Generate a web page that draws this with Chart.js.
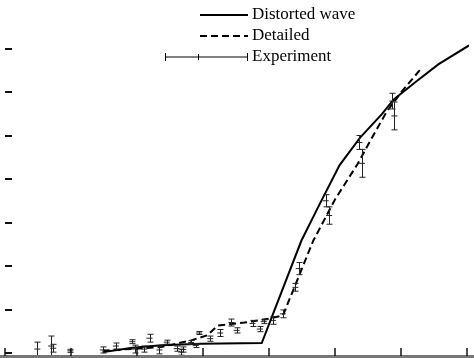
<!DOCTYPE html>
<html>
<head>
<meta charset="utf-8">
<script src="https://cdn.jsdelivr.net/npm/chart.js@4/dist/chart.umd.min.js"></script>
<style>
  html,body{margin:0;padding:0;background:#fff;}
  #wrap{width:474px;height:358px;position:relative;}
</style>
</head>
<body>
<div id="wrap"><canvas id="c" width="474" height="358"></canvas></div>
<script>
// curves (x, y in axis units)
const waveX = [1.48, 1.93, 2.37, 2.97, 3.89, 4.49, 4.75, 5.07, 5.38, 5.71, 5.89, 6.23, 6.57, 7.03];
const waveY = [0.02, 0.12, 0.18, 0.21, 0.23, 2.58, 3.37, 4.32, 4.95, 5.49, 5.83, 6.24, 6.64, 7.07];

const detX = [1.48, 2.37, 2.82, 3.07, 3.22, 3.63, 4.00, 4.21, 4.67, 5.00, 5.34, 5.56, 5.78, 6.01, 6.30];
const detY = [0.05, 0.14, 0.29, 0.41, 0.63, 0.70, 0.79, 0.86, 2.58, 3.53, 4.34, 4.95, 5.54, 6.01, 6.53];

const expX = [0.49, 0.70, 0.73, 0.99, 1.48, 1.68, 1.93, 1.97, 2.11, 2.19, 2.34, 2.45, 2.60, 2.67, 2.70, 2.82, 2.89, 2.94,
  3.11, 3.26, 3.43, 3.51, 3.75, 3.86, 3.92, 4.06, 4.21, 4.40, 4.45, 4.86, 4.91, 5.37, 5.41, 5.87, 5.90];
const expY = [0.09, 0.16, 0.11, 0.05, 0.07, 0.16, 0.26, 0.09, 0.09, 0.34, 0.07, 0.25, 0.10, 0.02, 0.08, 0.24, 0.17, 0.46,
  0.33, 0.46, 0.70, 0.52, 0.68, 0.55, 0.72, 0.75, 0.90, 1.51, 1.94, 3.50, 3.16, 4.84, 4.36, 5.79, 5.45];
const expErr = [0.16, 0.23, 0.09, 0.035, 0.07, 0.07, 0.045, 0.09, 0.07, 0.09, 0.09, 0.045, 0.06, 0.07, 0.06, 0.045, 0.045, 0.035,
  0.06, 0.08, 0.08, 0.06, 0.07, 0.06, 0.045, 0.09, 0.09, 0.09, 0.14, 0.14, 0.20, 0.16, 0.32, 0.18, 0.32];

const xTicks = [0, 1, 2, 3, 4, 5, 6, 7];
const yTicks = [0, 1, 2, 3, 4, 5, 6, 7];

const legendLabels = ['Distorted wave', 'Detailed', 'Experiment'];

function pts(xs, ys){ return xs.map((x,i)=>({x:x, y:ys[i]})); }

// error bars for the experiment points
const errorBars = {
  id:'errorBars',
  afterDatasetsDraw(chart){
    const ctx = chart.ctx, xs = chart.scales.x, ys = chart.scales.y;
    ctx.save();
    ctx.strokeStyle = '#222'; ctx.lineWidth = 1;
    expX.forEach((x,i)=>{
      const px = Math.round(xs.getPixelForValue(x)) + 0.5;
      const top = ys.getPixelForValue(expY[i] + expErr[i]);
      const bot = ys.getPixelForValue(expY[i] - expErr[i]);
      ctx.beginPath();
      ctx.moveTo(px, top); ctx.lineTo(px, bot);
      ctx.moveTo(px-3, top); ctx.lineTo(px+3, top);
      ctx.moveTo(px-3, bot); ctx.lineTo(px+3, bot);
      ctx.stroke();
    });
    ctx.restore();
  }
};

// axis line, inward ticks and the legend
const frame = {
  id:'frame',
  afterDraw(chart){
    const ctx = chart.ctx, xs = chart.scales.x, ys = chart.scales.y, a = chart.chartArea;
    ctx.save();
    ctx.fillStyle = '#777';
    ctx.fillRect(0, 355, 474, 3);
    ctx.strokeStyle = '#111';
    ctx.lineWidth = 2;
    yTicks.forEach(v=>{ const py = Math.round(ys.getPixelForValue(v)); ctx.beginPath(); ctx.moveTo(a.left, py); ctx.lineTo(a.left+7, py); ctx.stroke(); });
    ctx.lineWidth = 1.5;
    xTicks.forEach(v=>{ const px = Math.round(xs.getPixelForValue(v)); ctx.beginPath(); ctx.moveTo(px, 356); ctx.lineTo(px, 348); ctx.stroke(); });

    // legend
    const lx0 = 200, lx1 = 248, tx = 252, rows = [15, 36, 57];
    ctx.strokeStyle = '#000'; ctx.lineWidth = 2;
    ctx.beginPath(); ctx.moveTo(lx0, rows[0]); ctx.lineTo(lx1, rows[0]); ctx.stroke();
    ctx.setLineDash([7,4]);
    ctx.beginPath(); ctx.moveTo(lx0, rows[1]); ctx.lineTo(lx1, rows[1]); ctx.stroke();
    ctx.setLineDash([]);
    ctx.lineWidth = 1;
    ctx.beginPath();
    ctx.moveTo(lx0-35, rows[2]); ctx.lineTo(lx1, rows[2]);
    ctx.moveTo(lx0-35+0.5, rows[2]-4); ctx.lineTo(lx0-35+0.5, rows[2]+4);
    ctx.moveTo(lx1-0.5, rows[2]-4); ctx.lineTo(lx1-0.5, rows[2]+4);
    ctx.moveTo(lx0-1.5, rows[2]-3); ctx.lineTo(lx0-1.5, rows[2]+3);
    ctx.stroke();
    ctx.fillStyle = '#000';
    ctx.font = '17px "Liberation Serif", "DejaVu Serif", serif';
    ctx.textBaseline = 'middle';
    legendLabels.forEach((t,i)=>ctx.fillText(t, tx, rows[i]));
    ctx.restore();
  }
};

new Chart(document.getElementById('c'), {
  type:'scatter',
  data:{
    datasets:[
      {label:legendLabels[0], data:pts(waveX, waveY), showLine:true, borderColor:'#000', borderWidth:2, pointRadius:0, tension:0},
      {label:legendLabels[1], data:pts(detX, detY), showLine:true, borderColor:'#000', borderWidth:2, borderDash:[7,4], pointRadius:0, tension:0},
      {label:legendLabels[2], data:pts(expX, expY), showLine:false, borderColor:'#222', borderWidth:1, pointStyle:'line', pointRadius:3}
    ]
  },
  options:{
    responsive:false, animation:false, devicePixelRatio:1,
    layout:{padding:{left:0, right:0, top:0, bottom:4}},
    plugins:{legend:{display:false}, tooltip:{enabled:false}},
    scales:{
      x:{type:'linear', min:0, max:7.03, display:false},
      y:{type:'linear', min:0, max:8, display:false}
    }
  },
  plugins:[errorBars, frame]
});
</script>
</body>
</html>
